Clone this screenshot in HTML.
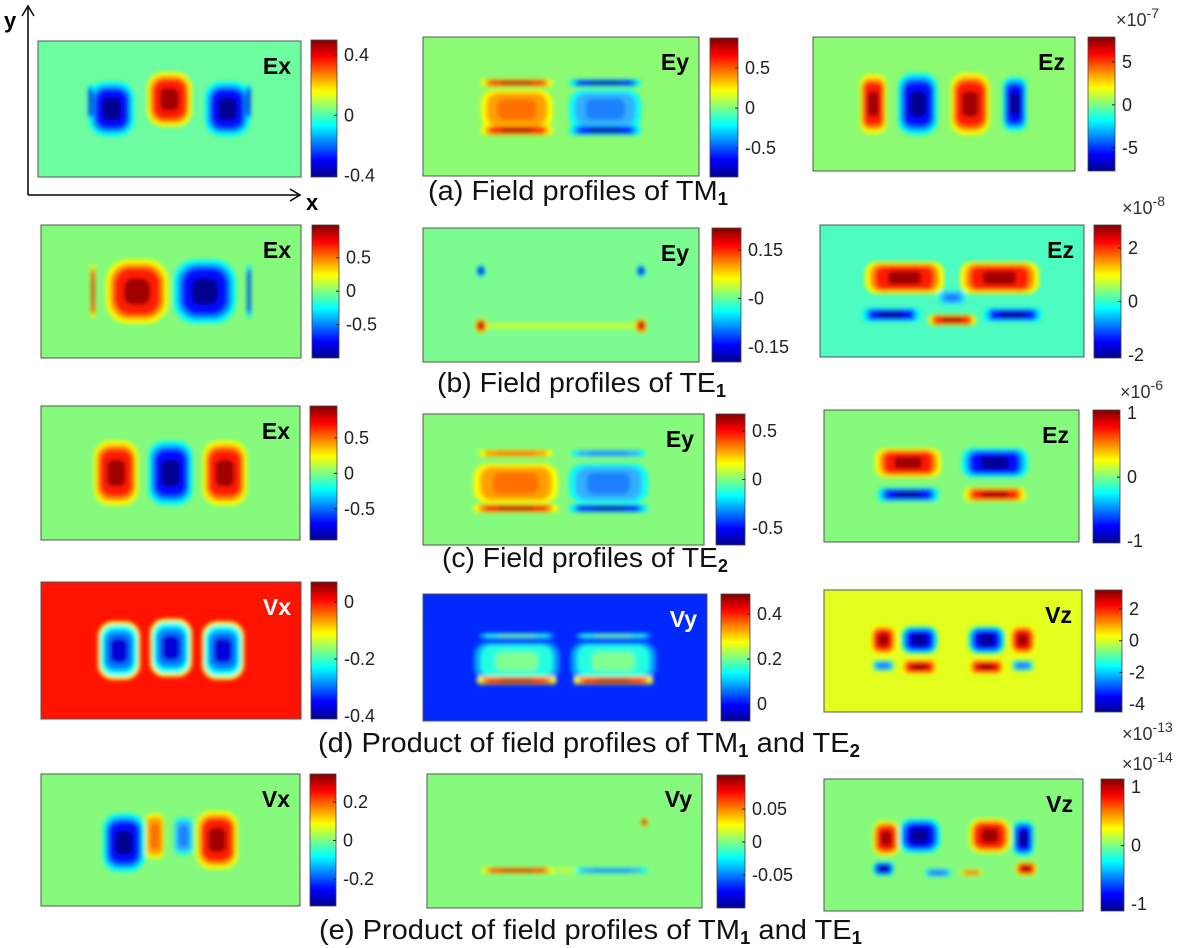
<!DOCTYPE html>
<html><head><meta charset="utf-8"><style>
html,body{margin:0;padding:0;background:#fff;}
svg{display:block;font-family:"Liberation Sans",sans-serif;}
</style></head><body>
<svg id="fig" width="1200" height="948" viewBox="0 0 1200 948" xmlns="http://www.w3.org/2000/svg">
<defs>
<linearGradient id="jet" x1="0" y1="0" x2="0" y2="1">
<stop offset="0" stop-color="#800000"/><stop offset="0.125" stop-color="#ff0000"/><stop offset="0.25" stop-color="#ff8000"/><stop offset="0.375" stop-color="#ffff00"/><stop offset="0.5" stop-color="#80ff80"/><stop offset="0.625" stop-color="#00ffff"/><stop offset="0.75" stop-color="#0080ff"/><stop offset="0.875" stop-color="#0000ff"/><stop offset="1" stop-color="#00008f"/>
</linearGradient>
<filter id="bl" x="-30%" y="-30%" width="160%" height="160%"><feGaussianBlur stdDeviation="2.2"/></filter>
</defs>
<g>
<line x1="28" y1="195" x2="28" y2="8" stroke="#000" stroke-width="1.5"/>
<polyline points="22,16 28,6 34,16" fill="none" stroke="#000" stroke-width="1.5"/>
<line x1="28" y1="195" x2="298" y2="195" stroke="#000" stroke-width="1.5"/>
<polyline points="290,189 300,195 290,201" fill="none" stroke="#000" stroke-width="1.5"/>
<text x="4" y="28" font-size="22" font-weight="bold">y</text>
<text x="306" y="210" font-size="22" font-weight="bold">x</text>
</g>
</svg>
<script>
const panelNames=['ex-tm1','ey-tm1','ez-tm1','ex-te1','ey-te1','ez-te1','ex-te2','ey-te2','ez-te2','vx-tm1te2','vy-tm1te2','vz-tm1te2','vx-tm1te1','vy-tm1te1','vz-tm1te1'];
const panelLabels=['Ex','Ey','Ez','Ex','Ey','Ez','Ex','Ey','Ez','Vx','Vy','Vz','Vx','Vy','Vz'];
const panelBg=['#6efca0','#8cfa72','#8cfa72','#86fa7c','#7cfc90','#4cfcc0','#86fa7c','#86fa7c','#86fa7c','#ff1200','#0028ff','#e2ff1e','#86fa7c','#86fa7c','#86fa7c'];
const panelBox=[[38,41,263,136],[423,37,276,139],[813,37,262,134],[41,225,260,133],[423,228,276,134],[820,225,264,132],[41,406,259,134],[423,414,281,131],[824,410,255,132],[41,582,260,137],[423,594,284,127],[824,590,258,122],[41,774,259,132],[427,774,275,134],[824,779,259,132]];
const cbBox=[[311,40,26,137],[710,38,28,139],[1088,37,27,134],[312,225,27,133],[712,228,29,134],[1094,225,27,133],[310,406,27,134],[716,414,29,131],[1093,410,27,133],[311,582,26,137],[721,594,29,127],[1095,590,27,122],[310,774,26,132],[717,775,28,133],[1101,779,23,132]];
const cbDomain=[[-0.41,0.5],[-0.86,0.875],[-7.7,7.9],[-1.0,0.99],[-0.197,0.218],[-2.11,2.86],[-0.94,0.95],[-0.675,0.675],[-1.03,1.05],[-0.41,0.07],[-0.076,0.49],[-4.5,3.2],[-0.34,0.345],[-0.1,0.1015],[-1.12,1.14]];
const cbTicks=[[0.4,0,-0.4],[0.5,0,-0.5],[5,0,-5],[0.5,0,-0.5],[0.15,0,-0.15],[2,0,-2],[0.5,0,-0.5],[0.5,0,-0.5],[1,0,-1],[0,-0.2,-0.4],[0.4,0.2,0],[2,0,-2,-4],[0.2,0,-0.2],[0.05,0,-0.05],[1,0,-1]];
const cbTickLabels=[['0.4','0','-0.4'],['0.5','0','-0.5'],['5','0','-5'],['0.5','0','-0.5'],['0.15','-0','-0.15'],['2','0','-2'],['0.5','0','-0.5'],['0.5','0','-0.5'],['1','0','-1'],['0','-0.2','-0.4'],['0.4','0.2','0'],['2','0','-2','-4'],['0.2','0','-0.2'],['0.05','0','-0.05'],['1','0','-1']];
const blobs=[
 [[0.28,0.5,0.085,0.2,'n'],[0.5,0.43,0.085,0.2,'p'],[0.72,0.5,0.085,0.2,'n'],[0.2,0.45,0.01,0.13,'n'],[0.8,0.45,0.01,0.13,'n']],
 [[0.34,0.52,0.13,0.14,'po'],[0.34,0.33,0.13,0.025,'p'],[0.34,0.67,0.13,0.035,'p'],[0.66,0.52,0.13,0.14,'nc'],[0.66,0.33,0.13,0.025,'n'],[0.66,0.67,0.13,0.035,'n']],
 [[0.23,0.5,0.05,0.22,'p'],[0.4,0.5,0.075,0.23,'n'],[0.6,0.5,0.075,0.23,'p'],[0.77,0.5,0.045,0.2,'n']],
 [[0.37,0.5,0.12,0.24,'p'],[0.63,0.5,0.12,0.24,'n'],[0.2,0.5,0.008,0.2,'p'],[0.8,0.5,0.008,0.2,'n']],
 [[0.5,0.73,0.3,0.02,'py'],[0.21,0.73,0.02,0.05,'p'],[0.79,0.73,0.02,0.05,'p'],[0.21,0.32,0.015,0.04,'n'],[0.79,0.32,0.015,0.04,'n']],
 [[0.32,0.4,0.15,0.12,'p'],[0.68,0.4,0.15,0.12,'p'],[0.27,0.68,0.11,0.05,'n'],[0.73,0.68,0.11,0.05,'n'],[0.5,0.72,0.09,0.04,'p'],[0.5,0.55,0.05,0.05,'nc']],
 [[0.29,0.5,0.085,0.24,'p'],[0.5,0.5,0.085,0.24,'n'],[0.71,0.5,0.085,0.24,'p']],
 [[0.33,0.53,0.15,0.15,'po'],[0.33,0.3,0.13,0.025,'po'],[0.33,0.72,0.15,0.03,'p'],[0.66,0.53,0.14,0.15,'nc'],[0.66,0.3,0.13,0.025,'nc'],[0.66,0.72,0.14,0.03,'n']],
 [[0.33,0.4,0.13,0.11,'p'],[0.67,0.4,0.13,0.11,'n'],[0.33,0.64,0.12,0.05,'n'],[0.67,0.64,0.12,0.05,'p']],
 [[0.3,0.5,0.065,0.17,'v'],[0.5,0.48,0.065,0.17,'v'],[0.7,0.5,0.065,0.17,'v']],
 [[0.33,0.53,0.15,0.15,'c'],[0.67,0.53,0.15,0.15,'c'],[0.33,0.68,0.14,0.03,'p'],[0.67,0.68,0.14,0.03,'p'],[0.33,0.33,0.13,0.02,'c'],[0.67,0.33,0.13,0.02,'c']],
 [[0.23,0.41,0.05,0.12,'p'],[0.37,0.41,0.07,0.11,'n'],[0.63,0.41,0.07,0.11,'n'],[0.77,0.41,0.05,0.12,'p'],[0.23,0.62,0.04,0.04,'nc'],[0.37,0.63,0.07,0.06,'p'],[0.63,0.63,0.07,0.06,'p'],[0.77,0.62,0.04,0.04,'nc']],
 [[0.32,0.52,0.08,0.22,'n'],[0.44,0.47,0.035,0.17,'po'],[0.55,0.47,0.035,0.14,'nc'],[0.68,0.5,0.08,0.22,'p']],
 [[0.5,0.72,0.3,0.015,'py'],[0.33,0.72,0.13,0.02,'p'],[0.67,0.72,0.13,0.02,'nc'],[0.79,0.36,0.012,0.03,'p']],
 [[0.24,0.45,0.05,0.13,'p'],[0.37,0.43,0.08,0.13,'n'],[0.64,0.43,0.08,0.13,'p'],[0.77,0.45,0.04,0.13,'n'],[0.23,0.68,0.04,0.05,'n'],[0.78,0.68,0.04,0.05,'p'],[0.44,0.71,0.05,0.03,'nc'],[0.57,0.71,0.04,0.02,'po']]
];
const layers={
 p:[[1,'#ffff00'],[0.87,'#ff8c00'],[0.74,'#ff1a00'],[0.42,'#a00000']],
 n:[[1,'#00ffff'],[0.87,'#0090ff'],[0.74,'#0010ff'],[0.42,'#000090']],
 po:[[1,'#ffff00'],[0.85,'#ffa000'],[0.55,'#ff7000']],
 nc:[[1,'#00ffff'],[0.85,'#30b0ff'],[0.55,'#1c80ff']],
 py:[[1,'#c8ff30']],
 v:[[1.25,'#ffff00'],[1.1,'#00ffff'],[0.85,'#0080ff'],[0.55,'#0000d8']],
 c:[[1,'#00a0ff'],[0.85,'#20ffe0'],[0.5,'#80ff90']]
};
const captions=[
 {x:428,y:200,len:300,t:['(a) Field profiles of TM','1','']},
 {x:437,y:392,len:289,t:['(b) Field profiles of TE','1','']},
 {x:442,y:567,len:286,t:['(c) Field profiles of TE','2','']},
 {x:318,y:752,len:542,t:['(d) Product of field profiles of TM','1',' and TE','2']},
 {x:319,y:939,len:543,t:['(e) Product of field profiles of TM','1',' and TE','1']}
];
const exps=[[1116,26,'-7'],[1122,214,'-8'],[1120,398,'-6'],[1122,740,'-13'],[1122,770,'-14']];

const NS='http://www.w3.org/2000/svg';
const svg=document.getElementById('fig');
function mk(tag,attrs,parent){const e=document.createElementNS(NS,tag);for(const k in attrs)e.setAttribute(k,attrs[k]);(parent||svg).appendChild(e);return e;}
function cbScale(i,v){const [x,y,w,h]=cbBox[i];const [a,b]=cbDomain[i];return y+(b-v)/(b-a)*h;}

panelBox.forEach((b,i)=>{
 const g=mk('g',{});
 
 
 const [x,y,w,h]=b;
 mk('rect',{x:x,y:y,width:w,height:h,fill:panelBg[i]},g);
 const bg=mk('g',{filter:'url(#bl)'},g);
 blobs[i].forEach(bb=>{
  const [cx,cy,rx,ry,t]=bb;
  layers[t].forEach(l=>{
   const hw=rx*w*l[0], hh=ry*h*l[0];
   const r=Math.min(hw,hh)*0.7;
   const el=mk('rect',{x:x+cx*w-hw,y:y+cy*h-hh,width:2*hw,height:2*hh,rx:r,ry:r,fill:l[1]},bg);
   
   
  });
 });
 mk('rect',{x:x,y:y,width:w,height:h,fill:'none',stroke:'#555','stroke-width':1},g);
 const lt=mk('text',{x:x+w-10,y:y+33,'text-anchor':'end','font-size':23,'font-weight':'bold',fill:(i===9||i===10)?'#fff':'#000'},g);
 lt.textContent=panelLabels[i];
 
 
 const [cx,cy,cw,ch]=cbBox[i];
 const cg=mk('g',{});
 
 
 mk('rect',{x:cx,y:cy,width:cw,height:ch,fill:'url(#jet)',stroke:'#444','stroke-width':0.8},cg);
 cbTicks[i].forEach((v,k)=>{
  const ty=cbScale(i,v);
  mk('line',{x1:cx+cw-3,x2:cx+cw,y1:ty,y2:ty,stroke:'#222','stroke-width':1},cg);
  const tt=mk('text',{x:cx+cw+7,y:ty+6,'font-size':18,fill:'#222'},cg);
  tt.textContent=cbTickLabels[i][k];
  
  
 });
});
exps.forEach(e=>{
 const t=mk('text',{x:e[0],y:e[1],'font-size':18,fill:'#333'});
 
 
 const a=mk('tspan',{},t);a.textContent='\u00d710';
 const s=mk('tspan',{dy:-8,'font-size':14},t);s.textContent=e[2];
});
captions.forEach(c=>{
 const t=mk('text',{x:c.x,y:c.y,'font-size':28,fill:'#111',textLength:c.len,lengthAdjust:'spacingAndGlyphs'});
 
 
 const p=c.t;
 let a=mk('tspan',{},t);a.textContent=p[0];
 let b=mk('tspan',{dy:5,'font-size':18,'font-weight':'bold'},t);b.textContent=p[1];
 if(p[2]){let d=mk('tspan',{dy:-5},t);d.textContent=p[2];
  let e=mk('tspan',{dy:5,'font-size':18,'font-weight':'bold'},t);e.textContent=p[3];}
});
</script>
</body></html>
